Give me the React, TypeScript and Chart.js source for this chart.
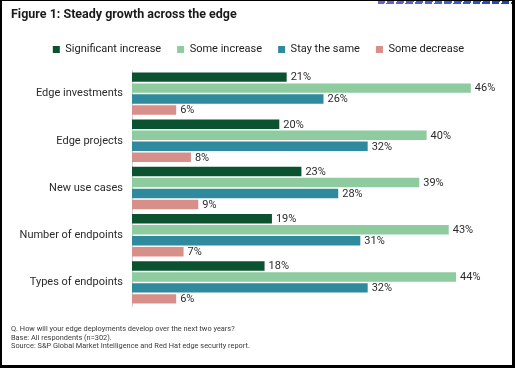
import React, { useEffect, useRef } from "react";
import { Chart, registerables } from "chart.js";

Chart.register(...registerables);

const categories = ["Edge investments", "Edge projects", "New use cases", "Number of endpoints", "Types of endpoints"];
const seriesNames = ["Significant increase", "Some increase", "Stay the same", "Some decrease"];
const significantIncrease = [21, 20, 23, 19, 18];
const someIncrease = [46, 40, 39, 43, 44];
const stayTheSame = [26, 32, 28, 31, 32];
const someDecrease = [6, 8, 9, 7, 6];
const seriesColors = ["#0b5231", "#8ecb9f", "#2f8a9d", "#d98f89"];
const titleText = "Figure 1: Steady growth across the edge";
const footnotes = [
  "Q. How will your edge deployments develop over the next two years?",
  "Base: All respondents (n=302).",
  "Source: S&P Global Market Intelligence and Red Hat edge security report.",
];

const FONT = "Roboto, 'Liberation Sans', Arial, sans-serif";

const valueLabels = {
  id: "valueLabels",
  afterDatasetsDraw(chart: any) {
    const ctx = chart.ctx;
    ctx.save();
    ctx.font = `11px ${FONT}`;
    ctx.fillStyle = "#2b2b2b";
    ctx.textAlign = "left";
    ctx.textBaseline = "middle";
    chart.data.datasets.forEach((ds: any, i: number) => {
      const meta = chart.getDatasetMeta(i);
      meta.data.forEach((bar: any, j: number) => {
        ctx.fillText(`${ds.data[j]}%`, bar.x + 4, bar.y + 0.5);
      });
    });
    ctx.restore();
  },
};

const legendSpacing = {
  id: "legendSpacing",
  beforeInit(chart: any) {
    const legend = chart.legend;
    if (!legend) return;
    const origFit = legend.fit;
    legend.fit = function () {
      origFit.call(this);
      this.height += 5;
    };
  },
};

export default function App() {
  const ref = useRef<HTMLCanvasElement>(null);
  useEffect(() => {
    const values = [significantIncrease, someIncrease, stayTheSame, someDecrease];
    const chart = new Chart(ref.current!, {
      type: "bar",
      data: {
        labels: categories,
        datasets: seriesNames.map((name, i) => ({
          label: name,
          data: values[i],
          backgroundColor: seriesColors[i],
          borderWidth: 0,
          barPercentage: 0.86,
          categoryPercentage: 0.93,
        })),
      },
      options: {
        indexAxis: "y",
        animation: false,
        responsive: false,
        maintainAspectRatio: false,
        layout: { padding: { left: 2, right: 0, top: 28, bottom: 62 } },
        plugins: {
          legend: {
            display: true,
            position: "top",
            labels: {
              boxWidth: 7,
              boxHeight: 7,
              padding: 16,
              color: "#222",
              font: { family: FONT, size: 11 },
            },
          },
          tooltip: { enabled: false },
        },
        scales: {
          x: {
            min: 0,
            max: 52,
            display: false,
            grid: { display: false },
          },
          y: {
            grid: { display: false, drawTicks: false },
            border: { display: true, color: "#d0d0d0", width: 1 },
            ticks: {
              color: "#2b2b2b",
              padding: 9,
              font: { family: FONT, size: 11 },
            },
            afterFit(scale: any) {
              scale.width = 130;
            },
          },
        },
      },
      plugins: [legendSpacing, valueLabels],
    });
    return () => chart.destroy();
  }, []);

  return (
    <div style={{ position: "fixed", left: 0, top: 0, width: 515, height: 368, background: "#fff", overflow: "hidden", fontFamily: FONT }}>
      <canvas ref={ref} width={515} height={368} style={{ position: "absolute", left: 0, top: 0 }} />
      <div style={{ position: "absolute", left: 11, top: 6, fontSize: 12.5, fontWeight: 700, color: "#1a1a1a", whiteSpace: "nowrap" }}>
        {titleText}
      </div>
      <div
        style={{
          position: "absolute",
          left: 378,
          top: 0,
          width: 134,
          height: 4,
          background:
            "repeating-linear-gradient(110deg, rgba(255,255,255,0) 0 7px, #fff 7px 9px), linear-gradient(90deg, #7a5ad0, #3a5ee6 50%, #1e3fb0)",
        }}
      />
      <div style={{ position: "absolute", left: 11, top: 325, fontSize: 7.4, lineHeight: "8.5px", color: "#3a3a3a" }}>
        {footnotes.map((t) => (
          <div key={t} style={{ whiteSpace: "nowrap" }}>{t}</div>
        ))}
      </div>
      <div
        style={{
          position: "absolute",
          left: 0,
          top: 0,
          width: 515,
          height: 368,
          boxSizing: "border-box",
          borderStyle: "solid",
          borderColor: "#000",
          borderWidth: "1px 3px 3px 2px",
          pointerEvents: "none",
        }}
      />
    </div>
  );
}
